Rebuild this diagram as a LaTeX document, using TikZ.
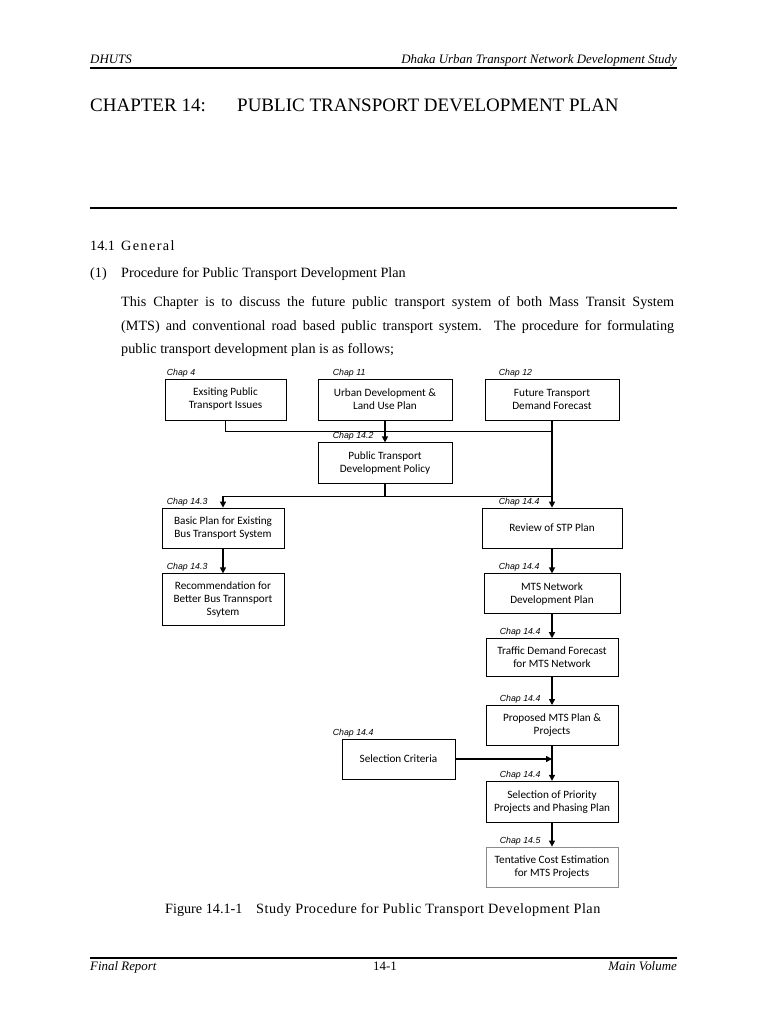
\documentclass[tikz,border=0pt]{standalone}
\usepackage{fontspec}
\setmainfont{Liberation Serif}
\newfontfamily\boxfont{Carlito}
\newfontfamily\chapfont{Liberation Sans}
\usetikzlibrary{arrows.meta,positioning}

\begin{document}
\begin{tikzpicture}[
  x=1pt, y=-1pt,
  >={Triangle[length=6pt,width=6pt]},
  node distance=24pt,
  stepbox/.style={draw, line width=0.8pt, align=center, inner sep=2pt,
    font=\boxfont\fontsize{11.2}{13}\selectfont},
  chaplbl/.style={anchor=south west, inner sep=0pt,
    font=\chapfont\itshape\fontsize{8.8}{10}\selectfont},
  arrow/.style={->, line width=1.2pt},
  link/.style={line width=0.8pt},
  pagetext/.style={anchor=base west, inner sep=0pt, font=\fontsize{14.2}{23.5}\selectfont},
  hdr/.style={inner sep=0pt, font=\itshape\fontsize{12.9}{15}\selectfont}
]
\useasboundingbox[fill=white] (0,0) rectangle (768,1024);

% HEADER
\node[hdr, anchor=base west] (hdrleft)  at (90,63.5)  {DHUTS};
\node[hdr, anchor=base east] (hdrright) at (677,63.5) {Dhaka Urban Transport Network Development Study};
\draw[line width=2.5pt] (90,68) -- (677,68);

% CHAPTER TITLE
\node[pagetext, font=\fontsize{19}{23}\selectfont] (chapnum)   at (90,111.5)  {CHAPTER 14:};
\node[pagetext, font=\fontsize{19}{23}\selectfont] (chaptitle) at (237,111.5) {PUBLIC TRANSPORT DEVELOPMENT PLAN};
\draw[line width=2pt] (90,208.5) -- (677,208.5);

% SECTION TEXT
\node[pagetext] (secnum)   at (90,250.5)  {14.1};
\node[pagetext] (secname)  at (121,250.5) {\addfontfeature{LetterSpace=10}General};
\node[pagetext] (itemnum)  at (90,277.5)  {(1)};
\node[pagetext] (itemname) at (121,277.5) {Procedure for Public Transport Development Plan};
\node[pagetext, text width=553pt, align=justify] (intro) at (121,306.5)
  {This Chapter is to discuss the future public transport system of both Mass Transit System\linebreak
   (MTS) and conventional road based public transport system.\ \ The procedure for formulating\linebreak
   public transport development plan is as follows;};

% INPUT LAYER
\node[stepbox, minimum width=121pt, minimum height=41pt] (exsit)  at (225.5,399.5) {Exsiting Public\\Transport Issues};
\node[stepbox, minimum width=134pt, minimum height=41pt] (urban)  at (385,399.5)   {Urban Development \&\\Land Use Plan};
\node[stepbox, minimum width=134pt, minimum height=41pt] (future) at (552,399.5)   {Future Transport\\Demand Forecast};

% POLICY
\node[stepbox, minimum width=134pt, minimum height=41pt, below=22pt of urban] (policy) {Public Transport\\Development Policy};

% BUS BRANCH
\node[stepbox, minimum width=122pt, minimum height=40pt] (basic) at (223,528) {Basic Plan for Existing\\Bus Transport System};
\node[stepbox, minimum width=122pt, minimum height=52pt, below=25pt of basic] (recomm)
      {Recommendation for\\Better Bus Trannsport\\Ssytem};

% MTS BRANCH
\node[stepbox, minimum width=140pt, minimum height=40pt] (review) at (552,528) {Review of STP Plan};
\node[stepbox, minimum width=136pt, minimum height=40pt, below=25pt of review]   (mtsnet)   {MTS Network\\Development Plan};
\node[stepbox, minimum width=132pt, minimum height=38pt, below=24pt of mtsnet]   (traffic)  {Traffic Demand Forecast\\for MTS Network};
\node[stepbox, minimum width=132pt, minimum height=40pt, below=28pt of traffic]  (proposed) {Proposed MTS Plan \&\\Projects};
\node[stepbox, minimum width=132pt, minimum height=41pt, below=35pt of proposed] (priority) {Selection of Priority\\Projects and Phasing Plan};
\node[stepbox, minimum width=132pt, minimum height=40pt, below=24pt of priority, draw=black!45] (cost)
      {Tentative Cost Estimation\\for MTS Projects};
\node[stepbox, minimum width=113pt, minimum height=40pt] (criteria) at (398.5,759) {Selection Criteria};

% CHAPTER LABELS
\node[chaplbl] (lexsit)    at ([xshift=2pt,yshift=1.5pt]exsit.north west)     {Chap 4};
\node[chaplbl] (lurban)    at ([xshift=15pt,yshift=1.5pt]urban.north west)    {Chap 11};
\node[chaplbl] (lfuture)   at ([xshift=14pt,yshift=1.5pt]future.north west)   {Chap 12};
\node[chaplbl] (lpolicy)   at ([xshift=15pt,yshift=1.5pt]policy.north west)   {Chap 14.2};
\node[chaplbl] (lbasic)    at ([xshift=5pt,yshift=1.5pt]basic.north west)     {Chap 14.3};
\node[chaplbl] (lrecomm)   at ([xshift=5pt,yshift=1.5pt]recomm.north west)    {Chap 14.3};
\node[chaplbl] (lreview)   at ([xshift=17pt,yshift=1.5pt]review.north west)   {Chap 14.4};
\node[chaplbl] (lmtsnet)   at ([xshift=15pt,yshift=1.5pt]mtsnet.north west)   {Chap 14.4};
\node[chaplbl] (ltraffic)  at ([xshift=14pt,yshift=1.5pt]traffic.north west)  {Chap 14.4};
\node[chaplbl] (lproposed) at ([xshift=14pt,yshift=1.5pt]proposed.north west) {Chap 14.4};
\node[chaplbl] (lpriority) at ([xshift=14pt,yshift=1.5pt]priority.north west) {Chap 14.4};
\node[chaplbl] (lcost)     at ([xshift=14pt,yshift=1.5pt]cost.north west)     {Chap 14.5};
\node[chaplbl] (lcriteria) at ([xshift=-9pt,yshift=1.5pt]criteria.north west) {Chap 14.4};

% CONNECTORS
\coordinate (jtop) at ([yshift=-11pt]exsit.south);
\coordinate (jmid) at ([yshift=-12pt]policy.south);
\draw[link]  (exsit.south) -- (jtop) -- (jtop -| future.south);
\draw[arrow] (urban.south)    -- (policy.north);
\draw[arrow] (future.south)   -- (review.north);
\draw[arrow] (policy.south)   -- (jmid) -| (basic.north);
\draw[link]  (jmid)           -- (jmid -| review.north);
\draw[arrow] (basic)          -- (recomm);
\draw[arrow] (review)         -- (mtsnet);
\draw[arrow] (mtsnet)         -- (traffic);
\draw[arrow] (traffic)        -- (proposed);
\draw[arrow] (proposed)       -- (priority);
\draw[arrow] (criteria.east)  -- (criteria.east -| priority.north);
\draw[arrow] (priority)       -- (cost);

% CAPTION
\node[pagetext] (figno)  at (165,913.5) {Figure 14.1-1};
\node[pagetext] (figttl) at (256,913.5) {\addfontfeature{LetterSpace=3.5}Study Procedure for Public Transport Development Plan};

% FOOTER
\draw[line width=2.5pt] (90,958) -- (677,958);
\node[hdr, anchor=base west] (ftleft)  at (90,970.5)  {Final Report};
\node[hdr, anchor=base, font=\fontsize{12.9}{15}\selectfont] (ftmid) at (385,970.5) {14-1};
\node[hdr, anchor=base east] (ftright) at (677,970.5) {Main Volume};
\end{tikzpicture}
\end{document}
